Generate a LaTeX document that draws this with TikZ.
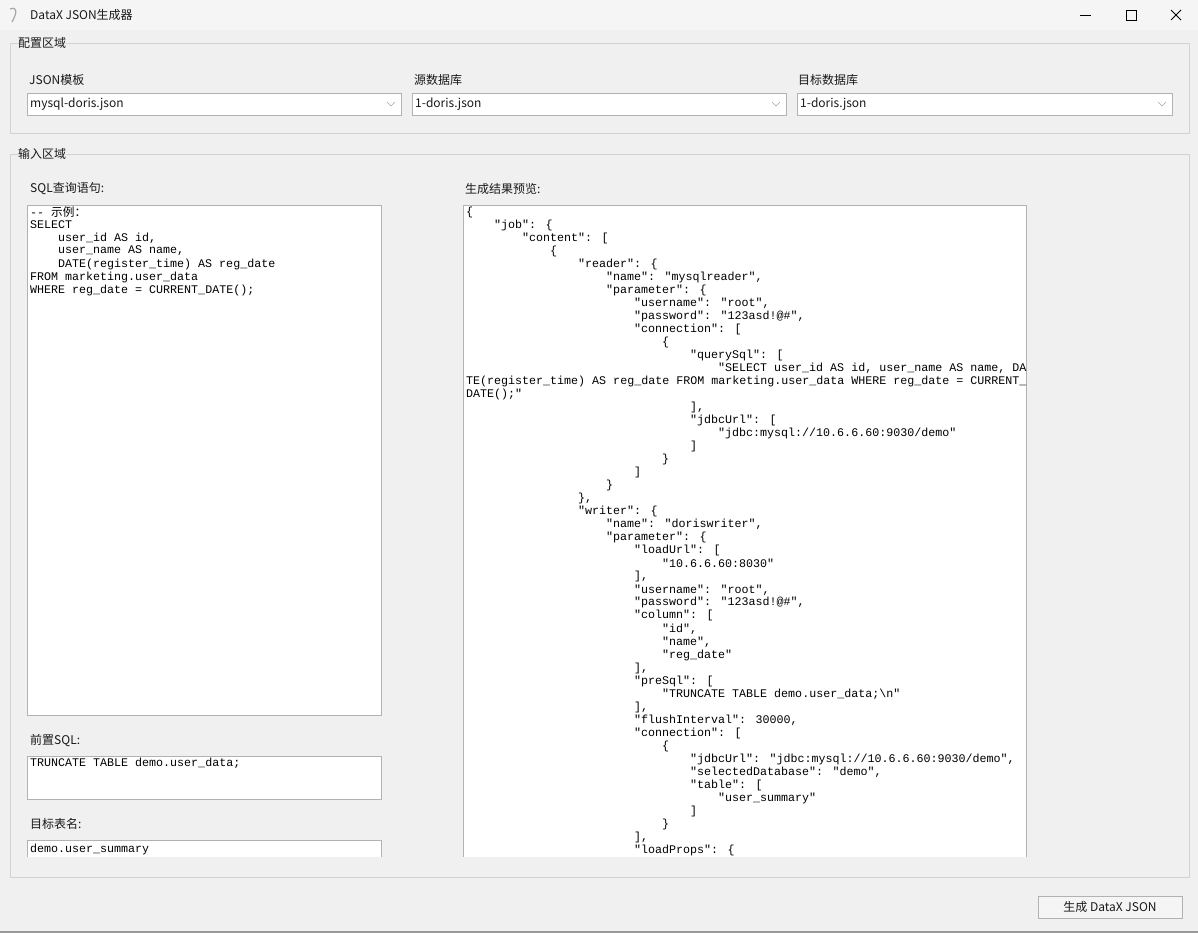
\documentclass[tikz,border=0pt]{standalone}
\usepackage{fontspec}
\setmainfont{Noto Sans CJK SC}
\newfontfamily\monof{Liberation Mono}
\newfontfamily\cjk{Noto Sans CJK SC}
\tikzset{
  ui/.style={anchor=west,inner sep=0pt,font=\fontsize{12}{14}\selectfont,text=black!90},
  mono/.style={anchor=west,inner sep=0pt,font=\monof\fontsize{11.67}{13}\selectfont},
  fieldbox/.style={draw=gray!60,fill=white,line width=0.8pt},
  groupframe/.style={draw=gray!35,line width=0.8pt},
}
\newcommand\jl[3]{\node[mono] at ({466+7*#2},{212+13.03*#1}) {#3};}
\newcommand\sqlline[3]{\node[mono] at ({30+7*#2},{212+13.03*#1}) {#3};}
\begin{document}
\begin{tikzpicture}[x=1pt,y=-1pt]
\useasboundingbox (0,0) rectangle (1198,933);
\fill[gray!12] (0,0) rectangle (1198,933);
% title bar
\fill[blue!3!gray!8] (0,0) rectangle (1198,30);
\draw[gray!70,line width=1.2pt] (10,9) .. controls (18,6) and (17,13) .. (12,22);
\node[ui] (title) at (30,15) {DataX JSON生成器};
\draw[line width=0.8pt] (1080,15) -- (1091,15);
\draw[line width=0.8pt] (1126,10) rectangle (1136,20);
\draw[line width=0.8pt] (1171,10) -- (1181,20) (1171,20) -- (1181,10);
% group 1
\draw[groupframe] (22,43) -- (10,43) -- (10,133) -- (1189,133) -- (1189,43) -- (66,43);
\node[ui] (g1) at (18,43) {配置区域};
\node[ui] (l1) at (29,80) {JSON模板};
\node[ui] (l2) at (414,80) {源数据库};
\node[ui] (l3) at (798,80) {目标数据库};
\foreach \xa/\xb/\t [count=\i] in {27/401/mysql-doris.json,412/786/1-doris.json,797/1172/1-doris.json}{
  \draw[fieldbox] (\xa,93) rectangle (\xb,115);
  \node[ui] (c\i) at (\xa+3,104) {\t};
  \draw[gray!70,line width=0.6pt] (\xb-14,102) -- (\xb-10,106) -- (\xb-6,102);
}
% group 2
\draw[groupframe] (22,154) -- (10,154) -- (10,877) -- (1189,877) -- (1189,154) -- (66,154);
\node[ui] (g2) at (18,154) {输入区域};
\node[ui] (sqll) at (30,189) {SQL查询语句:};
\node[ui] (prevl) at (465,189) {生成结果预览:};
\draw[fieldbox] (27,205) rectangle (381,715);
\fill[white] (463,205) rectangle (1026,857);
\draw[gray!60,line width=0.8pt] (463,857) -- (463,205) -- (1026,205) -- (1026,857);
\sqlline{0}{0}{-- {\cjk 示例：}}
\sqlline{1}{0}{SELECT}
\sqlline{2}{4}{user\_id AS id,}
\sqlline{3}{4}{user\_name AS name,}
\sqlline{4}{4}{DATE(register\_time) AS reg\_date}
\sqlline{5}{0}{FROM marketing.user\_data}
\sqlline{6}{0}{WHERE reg\_date = CURRENT\_DATE();}
\node[ui] (prel) at (30,741) {前置SQL:};
\draw[fieldbox] (27,756) rectangle (381,799);
\node[mono] (pre) at (30,763) {TRUNCATE TABLE demo.user\_data;};
\node[ui] (tgtl) at (30,824) {目标表名:};
\fill[white] (27,840) rectangle (381,857);
\draw[gray!60,line width=0.8pt] (27,857) -- (27,840) -- (381,840) -- (381,857);
\node[mono] (tgt) at (30,849) {demo.user\_summary};
% json
\jl{0}{0}{\{}
\jl{1}{4}{"job": \{}
\jl{2}{8}{"content": [}
\jl{3}{12}{\{}
\jl{4}{16}{"reader": \{}
\jl{5}{20}{"name": "mysqlreader",}
\jl{6}{20}{"parameter": \{}
\jl{7}{24}{"username": "root",}
\jl{8}{24}{"password": "123asd!@\#",}
\jl{9}{24}{"connection": [}
\jl{10}{28}{\{}
\jl{11}{32}{"querySql": [}
\jl{12}{36}{"SELECT user\_id AS id, user\_name AS name, DA}
\jl{13}{0}{TE(register\_time) AS reg\_date FROM marketing.user\_data WHERE reg\_date = CURRENT\_}
\jl{14}{0}{DATE();"}
\jl{15}{32}{],}
\jl{16}{32}{"jdbcUrl": [}
\jl{17}{36}{"jdbc:mysql://10.6.6.60:9030/demo"}
\jl{18}{32}{]}
\jl{19}{28}{\}}
\jl{20}{24}{]}
\jl{21}{20}{\}}
\jl{22}{16}{\},}
\jl{23}{16}{"writer": \{}
\jl{24}{20}{"name": "doriswriter",}
\jl{25}{20}{"parameter": \{}
\jl{26}{24}{"loadUrl": [}
\jl{27}{28}{"10.6.6.60:8030"}
\jl{28}{24}{],}
\jl{29}{24}{"username": "root",}
\jl{30}{24}{"password": "123asd!@\#",}
\jl{31}{24}{"column": [}
\jl{32}{28}{"id",}
\jl{33}{28}{"name",}
\jl{34}{28}{"reg\_date"}
\jl{35}{24}{],}
\jl{36}{24}{"preSql": [}
\jl{37}{28}{"TRUNCATE TABLE demo.user\_data;\textbackslash n"}
\jl{38}{24}{],}
\jl{39}{24}{"flushInterval": 30000,}
\jl{40}{24}{"connection": [}
\jl{41}{28}{\{}
\jl{42}{32}{"jdbcUrl": "jdbc:mysql://10.6.6.60:9030/demo",}
\jl{43}{32}{"selectedDatabase": "demo",}
\jl{44}{32}{"table": [}
\jl{45}{36}{"user\_summary"}
\jl{46}{32}{]}
\jl{47}{28}{\}}
\jl{48}{24}{],}
\begin{scope}
\clip (463,205) rectangle (1026,857);
\jl{49}{24}{"loadProps": \{}
\end{scope}
% button
\draw[fill=gray!8,draw=gray!60,line width=0.8pt] (1038,896) rectangle (1182,918);
\node[ui,anchor=center] (btn) at (1110,907) {生成 DataX JSON};
\draw[gray!80,line width=1.5pt] (0,932) -- (1198,932);
\end{tikzpicture}
\end{document}
